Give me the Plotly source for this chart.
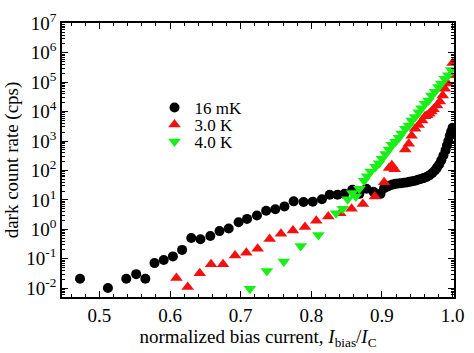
import plotly.graph_objects as go

# 16 mK
x_16mk = [0.4725, 0.512, 0.538, 0.552, 0.565, 0.578, 0.591, 0.604, 0.617, 0.630,
          0.643, 0.657, 0.670, 0.683, 0.697, 0.709, 0.723, 0.736, 0.749, 0.762,
          0.775, 0.789, 0.802, 0.815, 0.826, 0.837, 0.847, 0.858, 0.868, 0.878,
          0.888, 0.898, 0.903, 0.907, 0.911, 0.915, 0.919, 0.923, 0.927, 0.931,
          0.935, 0.939, 0.943, 0.947, 0.951, 0.955, 0.959, 0.963, 0.967, 0.971,
          0.975, 0.978, 0.981, 0.984, 0.987, 0.990, 0.992, 0.994, 0.996, 0.998, 1.000]
y_16mk = [0.021, 0.0102, 0.021, 0.030, 0.021, 0.071, 0.091, 0.12, 0.20, 0.51,
          0.46, 0.59, 0.87, 1.07, 1.74, 2.26, 2.95, 4.3, 4.8, 6.0,
          8.9, 8.5, 8.7, 10.5, 15, 15, 16, 22, 16, 24,
          19, 16, 25, 28, 31, 33, 35, 36, 37, 38,
          39, 41, 43, 45, 48, 51, 55, 60, 68, 80,
          100, 125, 160, 220, 320, 480, 700, 1000, 1500, 2100, 2800]

# 3.0 K
x_3k = [0.609, 0.625, 0.642, 0.658, 0.675, 0.692, 0.708, 0.724, 0.741, 0.757,
        0.774, 0.791, 0.807, 0.824, 0.841, 0.857, 0.873, 0.890, 0.903, 0.910,
        0.914, 0.918, 0.933, 0.938, 0.942, 0.947, 0.952, 0.957, 0.961, 0.964,
        0.967, 0.970, 0.973, 0.978, 0.982, 0.986, 0.989, 0.993, 0.997, 1.000]
y_3k = [0.022, 0.011, 0.032, 0.065, 0.065, 0.13, 0.16, 0.22, 0.47, 0.71,
        0.91, 1.19, 1.95, 2.7, 3.5, 5.0, 7.2, 13, 40, 120,
        150, 110, 520, 800, 1500, 2600, 3500, 5000, 6900, 7500,
        8500, 10000, 12000, 16000, 22000, 35000, 60000, 90000, 170000, 450000]

# 4.0 K
x_4k = [0.713, 0.737, 0.761, 0.785, 0.810, 0.835, 0.8445, 0.8515, 0.858, 0.863,
        0.868, 0.8747, 0.879, 0.884, 0.891, 0.896, 0.900, 0.905, 0.910, 0.914,
        0.919, 0.924, 0.928, 0.933, 0.938, 0.942, 0.947, 0.952, 0.956, 0.961,
        0.966, 0.970, 0.975, 0.980, 0.984, 0.989, 0.994, 0.998]
y_4k = [0.0096, 0.038, 0.080, 0.27, 0.64, 3.5, 5.0, 10.5, 17, 13,
        24, 45, 64, 93, 134, 175, 250, 360, 510, 740,
        950, 1300, 1800, 2600, 3400, 5000, 6500, 9500, 13000, 18500,
        24000, 35000, 47000, 68000, 90000, 130000, 170000, 260000]

y_tickvals = [1e-2, 1e-1, 1e0, 1e1, 1e2, 1e3, 1e4, 1e5, 1e6, 1e7]
y_ticktext = ["10<sup>-2</sup>", "10<sup>-1</sup>", "10<sup>0</sup>", "10<sup>1</sup>",
              "10<sup>2</sup>", "10<sup>3</sup>", "10<sup>4</sup>", "10<sup>5</sup>",
              "10<sup>6</sup>", "10<sup>7</sup>"]
x_tickvals = [0.5, 0.6, 0.7, 0.8, 0.9, 1.0]
x_ticktext = ["0.5", "0.6", "0.7", "0.8", "0.9", "1.0"]

FONT = "Liberation Serif, Times New Roman, serif"

fig = go.Figure()
fig.add_trace(go.Scatter(x=x_16mk, y=y_16mk, mode="markers", name="16 mK", legend="legend",
                         marker=dict(symbol="circle", size=10, color="black")))
fig.add_trace(go.Scatter(x=x_3k, y=y_3k, mode="markers", name="3.0 K", legend="legend2",
                         marker=dict(symbol="triangle-up", size=11, color="#f51010")))
fig.add_trace(go.Scatter(x=x_4k, y=y_4k, mode="markers", name="4.0 K", legend="legend3",
                         marker=dict(symbol="triangle-down", size=11, color="#18ee18")))

leg_common = dict(xanchor="left", yanchor="middle", bgcolor="rgba(0,0,0,0)",
                  font=dict(size=17, family=FONT), itemwidth=30)
fig.update_layout(
    width=474, height=353,
    margin=dict(l=62, r=14, t=10, b=51),
    paper_bgcolor="white", plot_bgcolor="white",
    font=dict(family=FONT, size=19, color="black"),
    showlegend=True,
    legend=dict(x=0.236, y=0.69, **leg_common),
    legend2=dict(x=0.236, y=0.628, **leg_common),
    legend3=dict(x=0.236, y=0.566, **leg_common),
)
fig.update_xaxes(
    range=[0.447, 1.002], tickvals=x_tickvals, ticktext=x_ticktext,
    ticks="inside", ticklen=6, tickwidth=1.2, tickcolor="black",
    showline=True, linecolor="black", linewidth=1.8, mirror="allticks",
    showgrid=False, zeroline=False, ticklabeloverflow="allow",
    minor=dict(ticks="inside", ticklen=3, dtick=0.02, tickcolor="black", showgrid=False),
    title=dict(text="normalized bias current, <i>I</i><sub>bias</sub>/<i>I</i><sub>C</sub>",
               font=dict(size=19, family=FONT), standoff=4),
    tickfont=dict(size=19, family=FONT),
)
fig.update_yaxes(
    type="log", range=[-2.3, 7.01], tickvals=y_tickvals, ticktext=y_ticktext,
    ticks="inside", ticklen=6, tickwidth=1.2, tickcolor="black",
    showline=True, linecolor="black", linewidth=1.8, mirror="allticks",
    showgrid=False, zeroline=False, ticklabeloverflow="allow",
    minor=dict(ticks="inside", ticklen=3, dtick="D1", tickcolor="black", showgrid=False),
    title=dict(text="dark count rate (cps)", font=dict(size=19, family=FONT), standoff=3),
    tickfont=dict(size=19, family=FONT),
)

fig.write_html("out.html")
